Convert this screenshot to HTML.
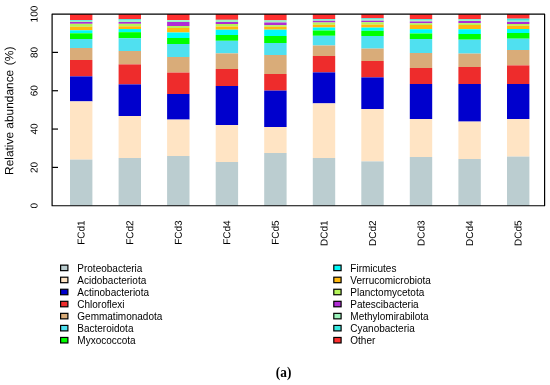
<!DOCTYPE html>
<html><head><meta charset="utf-8"><title>Relative abundance</title>
<style>
html,body{margin:0;padding:0;background:#fff;}
svg{display:block;}
text{font-family:"Liberation Sans",sans-serif;fill:#000;}
.cap{font-family:"Liberation Serif",serif;font-weight:bold;font-size:13.3px;}
</style></head><body>
<svg width="550" height="385" viewBox="0 0 550 385">
<rect x="0" y="0" width="550" height="385" fill="#fff"/>
<rect x="70.0" y="14.07" width="22.4" height="5.93" fill="#FF3030"/><rect x="70.0" y="20.00" width="22.4" height="0.80" fill="#38E8E0"/><rect x="70.0" y="20.80" width="22.4" height="1.20" fill="#9CF4BC"/><rect x="70.0" y="22.00" width="22.4" height="1.80" fill="#B02CD4"/><rect x="70.0" y="23.80" width="22.4" height="3.00" fill="#B5F55A"/><rect x="70.0" y="26.80" width="22.4" height="3.50" fill="#FFB90F"/><rect x="70.0" y="30.30" width="22.4" height="3.00" fill="#00FAFA"/><rect x="70.0" y="33.30" width="22.4" height="5.70" fill="#00FF00"/><rect x="70.0" y="39.00" width="22.4" height="9.00" fill="#50E0F0"/><rect x="70.0" y="48.00" width="22.4" height="12.00" fill="#D9AC79"/><rect x="70.0" y="60.00" width="22.4" height="16.40" fill="#EE2C2C"/><rect x="70.0" y="76.40" width="22.4" height="25.00" fill="#0000CD"/><rect x="70.0" y="101.40" width="22.4" height="58.20" fill="#FFE4C4"/><rect x="70.0" y="159.60" width="22.4" height="46.13" fill="#BBCDD0"/>
<rect x="118.6" y="14.07" width="22.4" height="5.13" fill="#FF3030"/><rect x="118.6" y="19.20" width="22.4" height="1.40" fill="#38E8E0"/><rect x="118.6" y="20.60" width="22.4" height="1.40" fill="#9CF4BC"/><rect x="118.6" y="22.00" width="22.4" height="1.80" fill="#B02CD4"/><rect x="118.6" y="23.80" width="22.4" height="2.50" fill="#B5F55A"/><rect x="118.6" y="26.30" width="22.4" height="2.70" fill="#FFB90F"/><rect x="118.6" y="29.00" width="22.4" height="3.20" fill="#00FAFA"/><rect x="118.6" y="32.20" width="22.4" height="6.00" fill="#00FF00"/><rect x="118.6" y="38.20" width="22.4" height="12.80" fill="#50E0F0"/><rect x="118.6" y="51.00" width="22.4" height="13.40" fill="#D9AC79"/><rect x="118.6" y="64.40" width="22.4" height="20.00" fill="#EE2C2C"/><rect x="118.6" y="84.40" width="22.4" height="31.60" fill="#0000CD"/><rect x="118.6" y="116.00" width="22.4" height="42.00" fill="#FFE4C4"/><rect x="118.6" y="158.00" width="22.4" height="47.73" fill="#BBCDD0"/>
<rect x="167.1" y="14.07" width="22.4" height="5.93" fill="#FF3030"/><rect x="167.1" y="20.00" width="22.4" height="0.30" fill="#38E8E0"/><rect x="167.1" y="20.30" width="22.4" height="1.70" fill="#9CF4BC"/><rect x="167.1" y="22.00" width="22.4" height="4.00" fill="#B02CD4"/><rect x="167.1" y="26.00" width="22.4" height="2.00" fill="#B5F55A"/><rect x="167.1" y="28.00" width="22.4" height="4.50" fill="#FFB90F"/><rect x="167.1" y="32.50" width="22.4" height="5.50" fill="#00FAFA"/><rect x="167.1" y="38.00" width="22.4" height="6.00" fill="#00FF00"/><rect x="167.1" y="44.00" width="22.4" height="13.00" fill="#50E0F0"/><rect x="167.1" y="57.00" width="22.4" height="15.60" fill="#D9AC79"/><rect x="167.1" y="72.60" width="22.4" height="21.40" fill="#EE2C2C"/><rect x="167.1" y="94.00" width="22.4" height="25.60" fill="#0000CD"/><rect x="167.1" y="119.60" width="22.4" height="36.40" fill="#FFE4C4"/><rect x="167.1" y="156.00" width="22.4" height="49.73" fill="#BBCDD0"/>
<rect x="215.7" y="14.07" width="22.4" height="5.73" fill="#FF3030"/><rect x="215.7" y="19.80" width="22.4" height="0.22" fill="#38E8E0"/><rect x="215.7" y="20.02" width="22.4" height="1.98" fill="#9CF4BC"/><rect x="215.7" y="22.00" width="22.4" height="2.00" fill="#B02CD4"/><rect x="215.7" y="24.00" width="22.4" height="2.50" fill="#B5F55A"/><rect x="215.7" y="26.50" width="22.4" height="3.20" fill="#FFB90F"/><rect x="215.7" y="29.70" width="22.4" height="5.30" fill="#00FAFA"/><rect x="215.7" y="35.00" width="22.4" height="5.80" fill="#00FF00"/><rect x="215.7" y="40.80" width="22.4" height="12.60" fill="#50E0F0"/><rect x="215.7" y="53.40" width="22.4" height="15.60" fill="#D9AC79"/><rect x="215.7" y="69.00" width="22.4" height="17.00" fill="#EE2C2C"/><rect x="215.7" y="86.00" width="22.4" height="39.00" fill="#0000CD"/><rect x="215.7" y="125.00" width="22.4" height="37.00" fill="#FFE4C4"/><rect x="215.7" y="162.00" width="22.4" height="43.73" fill="#BBCDD0"/>
<rect x="264.2" y="14.07" width="22.4" height="6.23" fill="#FF3030"/><rect x="264.2" y="20.30" width="22.4" height="0.33" fill="#38E8E0"/><rect x="264.2" y="20.63" width="22.4" height="1.87" fill="#9CF4BC"/><rect x="264.2" y="22.50" width="22.4" height="2.70" fill="#B02CD4"/><rect x="264.2" y="25.20" width="22.4" height="1.60" fill="#B5F55A"/><rect x="264.2" y="26.80" width="22.4" height="2.90" fill="#FFB90F"/><rect x="264.2" y="29.70" width="22.4" height="6.30" fill="#00FAFA"/><rect x="264.2" y="36.00" width="22.4" height="7.00" fill="#00FF00"/><rect x="264.2" y="43.00" width="22.4" height="12.00" fill="#50E0F0"/><rect x="264.2" y="55.00" width="22.4" height="19.00" fill="#D9AC79"/><rect x="264.2" y="74.00" width="22.4" height="16.60" fill="#EE2C2C"/><rect x="264.2" y="90.60" width="22.4" height="36.40" fill="#0000CD"/><rect x="264.2" y="127.00" width="22.4" height="26.00" fill="#FFE4C4"/><rect x="264.2" y="153.00" width="22.4" height="52.73" fill="#BBCDD0"/>
<rect x="312.8" y="14.07" width="22.4" height="4.93" fill="#FF3030"/><rect x="312.8" y="19.00" width="22.4" height="0.72" fill="#38E8E0"/><rect x="312.8" y="19.72" width="22.4" height="1.08" fill="#9CF4BC"/><rect x="312.8" y="20.80" width="22.4" height="1.70" fill="#B02CD4"/><rect x="312.8" y="22.50" width="22.4" height="2.30" fill="#B5F55A"/><rect x="312.8" y="24.80" width="22.4" height="2.70" fill="#FFB90F"/><rect x="312.8" y="27.50" width="22.4" height="3.00" fill="#00FAFA"/><rect x="312.8" y="30.50" width="22.4" height="5.30" fill="#00FF00"/><rect x="312.8" y="35.80" width="22.4" height="9.70" fill="#50E0F0"/><rect x="312.8" y="45.50" width="22.4" height="10.50" fill="#D9AC79"/><rect x="312.8" y="56.00" width="22.4" height="16.40" fill="#EE2C2C"/><rect x="312.8" y="72.40" width="22.4" height="31.00" fill="#0000CD"/><rect x="312.8" y="103.40" width="22.4" height="54.60" fill="#FFE4C4"/><rect x="312.8" y="158.00" width="22.4" height="47.73" fill="#BBCDD0"/>
<rect x="361.3" y="14.07" width="22.4" height="4.23" fill="#FF3030"/><rect x="361.3" y="18.30" width="22.4" height="1.20" fill="#38E8E0"/><rect x="361.3" y="19.50" width="22.4" height="1.20" fill="#9CF4BC"/><rect x="361.3" y="20.70" width="22.4" height="1.50" fill="#B02CD4"/><rect x="361.3" y="22.20" width="22.4" height="2.40" fill="#B5F55A"/><rect x="361.3" y="24.60" width="22.4" height="3.00" fill="#FFB90F"/><rect x="361.3" y="27.60" width="22.4" height="3.20" fill="#00FAFA"/><rect x="361.3" y="30.80" width="22.4" height="5.20" fill="#00FF00"/><rect x="361.3" y="36.00" width="22.4" height="12.60" fill="#50E0F0"/><rect x="361.3" y="48.60" width="22.4" height="12.40" fill="#D9AC79"/><rect x="361.3" y="61.00" width="22.4" height="16.40" fill="#EE2C2C"/><rect x="361.3" y="77.40" width="22.4" height="31.60" fill="#0000CD"/><rect x="361.3" y="109.00" width="22.4" height="52.40" fill="#FFE4C4"/><rect x="361.3" y="161.40" width="22.4" height="44.33" fill="#BBCDD0"/>
<rect x="409.8" y="14.07" width="22.4" height="5.13" fill="#FF3030"/><rect x="409.8" y="19.20" width="22.4" height="0.92" fill="#38E8E0"/><rect x="409.8" y="20.12" width="22.4" height="1.38" fill="#9CF4BC"/><rect x="409.8" y="21.50" width="22.4" height="1.80" fill="#B02CD4"/><rect x="409.8" y="23.30" width="22.4" height="1.70" fill="#B5F55A"/><rect x="409.8" y="25.00" width="22.4" height="4.20" fill="#FFB90F"/><rect x="409.8" y="29.20" width="22.4" height="4.30" fill="#00FAFA"/><rect x="409.8" y="33.50" width="22.4" height="5.50" fill="#00FF00"/><rect x="409.8" y="39.00" width="22.4" height="14.00" fill="#50E0F0"/><rect x="409.8" y="53.00" width="22.4" height="15.00" fill="#D9AC79"/><rect x="409.8" y="68.00" width="22.4" height="16.00" fill="#EE2C2C"/><rect x="409.8" y="84.00" width="22.4" height="35.00" fill="#0000CD"/><rect x="409.8" y="119.00" width="22.4" height="38.00" fill="#FFE4C4"/><rect x="409.8" y="157.00" width="22.4" height="48.73" fill="#BBCDD0"/>
<rect x="458.4" y="14.07" width="22.4" height="5.13" fill="#FF3030"/><rect x="458.4" y="19.20" width="22.4" height="0.63" fill="#38E8E0"/><rect x="458.4" y="19.83" width="22.4" height="1.17" fill="#9CF4BC"/><rect x="458.4" y="21.00" width="22.4" height="2.20" fill="#B02CD4"/><rect x="458.4" y="23.20" width="22.4" height="1.80" fill="#B5F55A"/><rect x="458.4" y="25.00" width="22.4" height="4.20" fill="#FFB90F"/><rect x="458.4" y="29.20" width="22.4" height="4.80" fill="#00FAFA"/><rect x="458.4" y="34.00" width="22.4" height="5.70" fill="#00FF00"/><rect x="458.4" y="39.70" width="22.4" height="13.90" fill="#50E0F0"/><rect x="458.4" y="53.60" width="22.4" height="13.40" fill="#D9AC79"/><rect x="458.4" y="67.00" width="22.4" height="17.00" fill="#EE2C2C"/><rect x="458.4" y="84.00" width="22.4" height="37.60" fill="#0000CD"/><rect x="458.4" y="121.60" width="22.4" height="37.40" fill="#FFE4C4"/><rect x="458.4" y="159.00" width="22.4" height="46.73" fill="#BBCDD0"/>
<rect x="507.0" y="14.07" width="22.4" height="4.63" fill="#FF3030"/><rect x="507.0" y="18.70" width="22.4" height="2.08" fill="#38E8E0"/><rect x="507.0" y="20.78" width="22.4" height="1.12" fill="#9CF4BC"/><rect x="507.0" y="21.90" width="22.4" height="2.10" fill="#B02CD4"/><rect x="507.0" y="24.00" width="22.4" height="1.70" fill="#B5F55A"/><rect x="507.0" y="25.70" width="22.4" height="3.30" fill="#FFB90F"/><rect x="507.0" y="29.00" width="22.4" height="4.00" fill="#00FAFA"/><rect x="507.0" y="33.00" width="22.4" height="5.70" fill="#00FF00"/><rect x="507.0" y="38.70" width="22.4" height="11.30" fill="#50E0F0"/><rect x="507.0" y="50.00" width="22.4" height="15.40" fill="#D9AC79"/><rect x="507.0" y="65.40" width="22.4" height="18.60" fill="#EE2C2C"/><rect x="507.0" y="84.00" width="22.4" height="35.00" fill="#0000CD"/><rect x="507.0" y="119.00" width="22.4" height="37.60" fill="#FFE4C4"/><rect x="507.0" y="156.60" width="22.4" height="49.13" fill="#BBCDD0"/>
<rect x="52.1" y="14.07" width="492.5" height="191.66" fill="none" stroke="#000" stroke-width="1.2" stroke-linejoin="round"/>
<text transform="translate(37.6,205.73) rotate(-89.95)" text-anchor="middle" font-size="10">0</text>
<line x1="52.1" x2="58" y1="167.40" y2="167.40" stroke="#000" stroke-width="1.2"/><text transform="translate(37.6,167.40) rotate(-89.95)" text-anchor="middle" font-size="10">20</text>
<line x1="52.1" x2="58" y1="129.06" y2="129.06" stroke="#000" stroke-width="1.2"/><text transform="translate(37.6,129.06) rotate(-89.95)" text-anchor="middle" font-size="10">40</text>
<line x1="52.1" x2="58" y1="90.73" y2="90.73" stroke="#000" stroke-width="1.2"/><text transform="translate(37.6,90.73) rotate(-89.95)" text-anchor="middle" font-size="10">60</text>
<line x1="52.1" x2="58" y1="52.39" y2="52.39" stroke="#000" stroke-width="1.2"/><text transform="translate(37.6,52.39) rotate(-89.95)" text-anchor="middle" font-size="10">80</text>
<text transform="translate(37.6,14.06) rotate(-89.95)" text-anchor="middle" font-size="10">100</text>
<text transform="translate(13.15,174.9) rotate(-89.95)" text-anchor="start" font-size="11.9">Relative abundance</text>
<text transform="translate(13.25,46.6) rotate(-89.95)" text-anchor="end" font-size="12">(%)</text>
<text transform="translate(84.6,220.4) rotate(-89.95)" text-anchor="end" font-size="10">FCd1</text>
<text transform="translate(133.2,220.4) rotate(-89.95)" text-anchor="end" font-size="10">FCd2</text>
<text transform="translate(181.7,220.4) rotate(-89.95)" text-anchor="end" font-size="10">FCd3</text>
<text transform="translate(230.3,220.4) rotate(-89.95)" text-anchor="end" font-size="10">FCd4</text>
<text transform="translate(278.8,220.4) rotate(-89.95)" text-anchor="end" font-size="10">FCd5</text>
<text transform="translate(327.4,220.4) rotate(-89.95)" text-anchor="end" font-size="10">DCd1</text>
<text transform="translate(375.9,220.4) rotate(-89.95)" text-anchor="end" font-size="10">DCd2</text>
<text transform="translate(424.4,220.4) rotate(-89.95)" text-anchor="end" font-size="10">DCd3</text>
<text transform="translate(473.0,220.4) rotate(-89.95)" text-anchor="end" font-size="10">DCd4</text>
<text transform="translate(521.6,220.4) rotate(-89.95)" text-anchor="end" font-size="10">DCd5</text>
<rect x="60.6" y="265.15" width="7.3" height="5.5" fill="#BBCDD0" stroke="#000" stroke-width="1.2"/><text x="77.3" y="271.50" font-size="10">Proteobacteria</text>
<rect x="60.6" y="277.20" width="7.3" height="5.5" fill="#FFE4C4" stroke="#000" stroke-width="1.2"/><text x="77.3" y="283.55" font-size="10">Acidobacteriota</text>
<rect x="60.6" y="289.25" width="7.3" height="5.5" fill="#0000CD" stroke="#000" stroke-width="1.2"/><text x="77.3" y="295.60" font-size="10">Actinobacteriota</text>
<rect x="60.6" y="301.30" width="7.3" height="5.5" fill="#EE2C2C" stroke="#000" stroke-width="1.2"/><text x="77.3" y="307.65" font-size="10">Chloroflexi</text>
<rect x="60.6" y="313.35" width="7.3" height="5.5" fill="#D9AC79" stroke="#000" stroke-width="1.2"/><text x="77.3" y="319.70" font-size="10">Gemmatimonadota</text>
<rect x="60.6" y="325.40" width="7.3" height="5.5" fill="#50E0F0" stroke="#000" stroke-width="1.2"/><text x="77.3" y="331.75" font-size="10">Bacteroidota</text>
<rect x="60.6" y="337.45" width="7.3" height="5.5" fill="#00FF00" stroke="#000" stroke-width="1.2"/><text x="77.3" y="343.80" font-size="10">Myxococcota</text>
<rect x="333.8" y="265.15" width="7.3" height="5.5" fill="#00FAFA" stroke="#000" stroke-width="1.2"/><text x="350.3" y="271.50" font-size="10">Firmicutes</text>
<rect x="333.8" y="277.20" width="7.3" height="5.5" fill="#FFB90F" stroke="#000" stroke-width="1.2"/><text x="350.3" y="283.55" font-size="10">Verrucomicrobiota</text>
<rect x="333.8" y="289.25" width="7.3" height="5.5" fill="#B5F55A" stroke="#000" stroke-width="1.2"/><text x="350.3" y="295.60" font-size="10">Planctomycetota</text>
<rect x="333.8" y="301.30" width="7.3" height="5.5" fill="#B02CD4" stroke="#000" stroke-width="1.2"/><text x="350.3" y="307.65" font-size="10">Patescibacteria</text>
<rect x="333.8" y="313.35" width="7.3" height="5.5" fill="#9CF4BC" stroke="#000" stroke-width="1.2"/><text x="350.3" y="319.70" font-size="10">Methylomirabilota</text>
<rect x="333.8" y="325.40" width="7.3" height="5.5" fill="#38E8E0" stroke="#000" stroke-width="1.2"/><text x="350.3" y="331.75" font-size="10">Cyanobacteria</text>
<rect x="333.8" y="337.45" width="7.3" height="5.5" fill="#FF3030" stroke="#000" stroke-width="1.2"/><text x="350.3" y="343.80" font-size="10">Other</text>
<text class="cap" transform="translate(283.6,376.8) scale(1,1.17)" text-anchor="middle">(a)</text>
</svg></body></html>
